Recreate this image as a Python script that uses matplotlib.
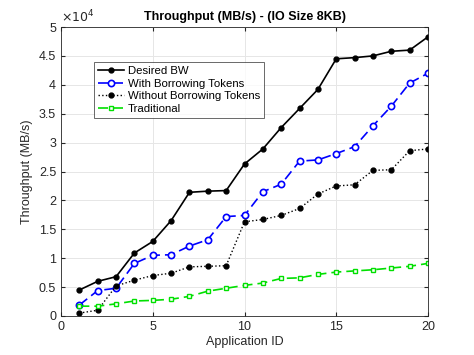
import numpy as np
import matplotlib
matplotlib.use("Agg")
import matplotlib.pyplot as plt
from matplotlib.ticker import FuncFormatter

plt.rcParams['font.family'] = ['Liberation Sans', 'DejaVu Sans']

app_id = np.arange(1, 21)
desired_bw = [4500, 6000, 6800, 10900, 12900, 16500, 21400, 21600, 21700, 26300,
              28900, 32600, 35900, 39200, 44500, 44700, 45000, 45800, 46000, 48300]
with_borrow = [1900, 4400, 4800, 9100, 10500, 10600, 12100, 13200, 17200, 17400,
               21500, 22800, 26800, 27000, 28100, 29300, 32900, 36300, 40300, 42000]
without_borrow = [500, 1000, 5200, 6200, 7000, 7400, 8500, 8600, 8700, 16300,
                  16700, 17400, 18600, 21100, 22500, 22700, 25200, 25300, 28600, 28900]
traditional = [1700, 1700, 2100, 2600, 2700, 2900, 3400, 4300, 4800, 5300,
               5700, 6500, 6600, 7200, 7600, 7800, 8000, 8300, 8600, 9100]

fig = plt.figure(figsize=(4.74, 3.55), dpi=100)
ax = fig.add_axes([61 / 474, 1 - 316 / 355, (428 - 61) / 474, (316 - 27) / 355])

ax.plot(app_id, desired_bw, '-', color='black', marker='o', markersize=3.5,
        linewidth=1.2, label='Desired BW')
ax.plot(app_id, with_borrow, '--', color='blue', marker='o', markersize=4.5,
        markerfacecolor='white', markeredgewidth=1.2, linewidth=1.2,
        dashes=(6, 3), label='With Borrowing Tokens')
ax.plot(app_id, without_borrow, ':', color='black', marker='o', markersize=3.5,
        linewidth=1.0, label='Without Borrowing Tokens')
ax.plot(app_id, traditional, '--', color='#00e000', marker='s', markersize=3.5,
        markerfacecolor='white', markeredgewidth=1.0, linewidth=1.2,
        dashes=(6, 3), label='Traditional')

ax.set_xlim(0, 20)
ax.set_ylim(0, 50000)
ax.set_xticks(np.arange(0, 21, 5))
ax.set_yticks(np.arange(0, 50001, 5000))
ax.yaxis.set_major_formatter(FuncFormatter(lambda v, p: f"{v / 1e4:g}"))
ax.grid(True, color='#e6e6e6', linewidth=0.7)
ax.set_axisbelow(True)
ax.tick_params(direction='in', length=3, labelsize=9, colors='#262626',
               top=True, right=True)
for s in ax.spines.values():
    s.set_color('#262626')
    s.set_linewidth(0.6)

ax.set_xlabel('Application ID', fontsize=9, color='#262626', labelpad=2)
ax.set_ylabel('Throughput (MB/s)', fontsize=9, color='#262626', labelpad=4)
ax.set_title('Throughput (MB/s) - (IO Size 8KB)', fontsize=9,
             fontweight='bold', pad=5)
ax.text(0.0, 1.005, r'$\times10^{4}$', transform=ax.transAxes, fontsize=9,
        color='#262626', ha='left', va='bottom')

leg = ax.legend(loc='upper left', bbox_to_anchor=(0.09, 0.88), fontsize=8.2,
                frameon=True, fancybox=False, edgecolor='#262626',
                borderpad=0.35, labelspacing=0.25, handlelength=2.3,
                handletextpad=0.3, borderaxespad=0)
leg.get_frame().set_linewidth(0.6)

fig.savefig('out.png', dpi=100)
